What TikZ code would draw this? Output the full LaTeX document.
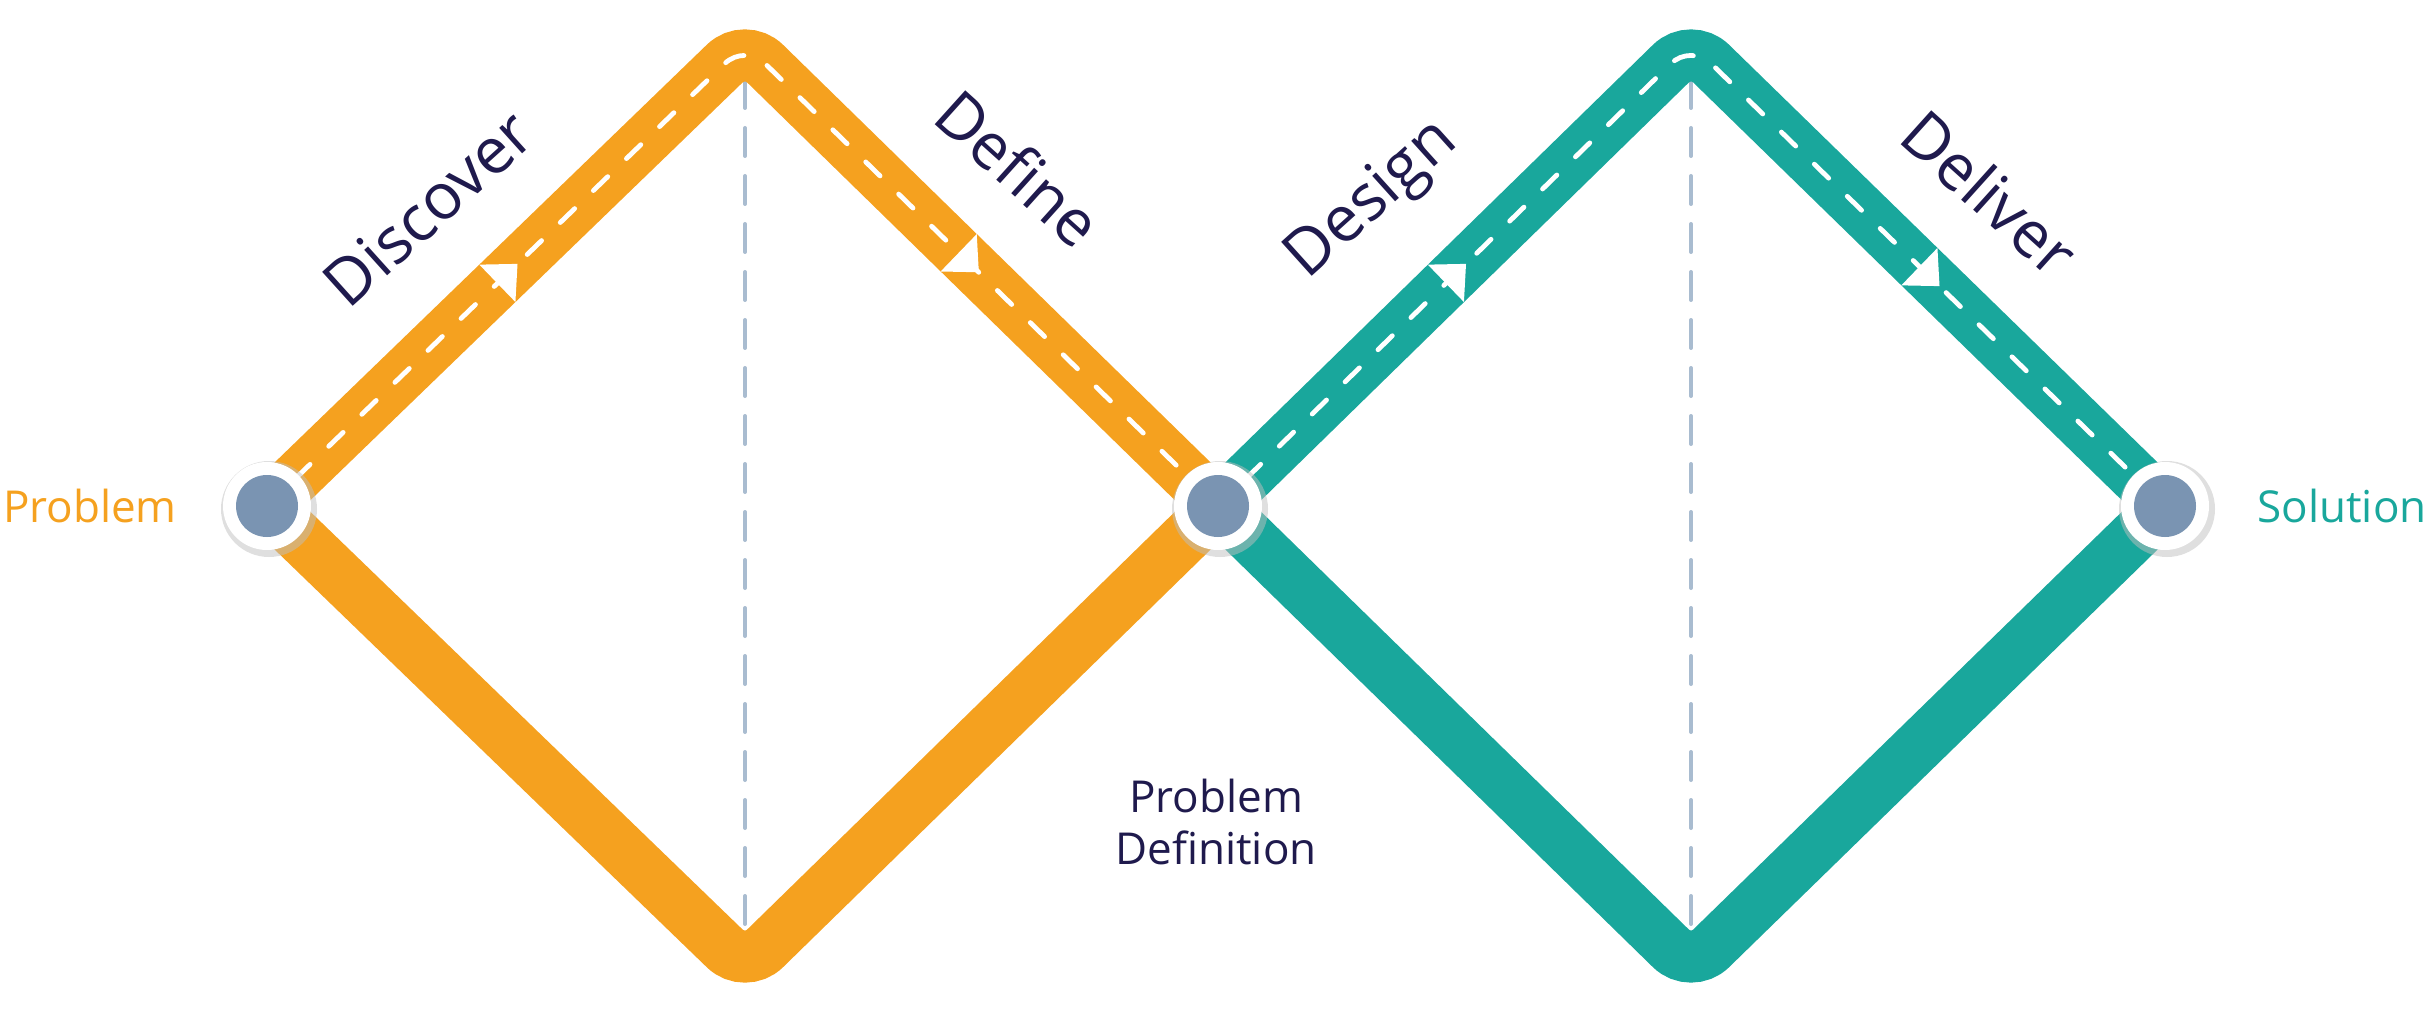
\documentclass[tikz,border=0pt]{standalone}
\usepackage{fontspec}
\setmainfont{Open Sans}
\usetikzlibrary{positioning,calc}
\definecolor{dorange}{HTML}{F5A11F}
\definecolor{dteal}{HTML}{19A79C}
\definecolor{dnavy}{HTML}{1F1A4D}
\definecolor{dpoint}{HTML}{7A94B2}
\definecolor{dguide}{HTML}{A9BCD0}
\tikzset{
  band/.style={line width=26pt, rounded corners=14pt},
  lane/.style={white, line width=2.4pt, line cap=round, dash pattern=on 10pt off 13pt, rounded corners=14pt},
  guide/.style={dguide, line width=2pt, line cap=round, dash pattern=on 14pt off 10pt},
  phase/.style={dnavy, font=\fontsize{32}{36}\selectfont},
  ends/.style={font=\fontsize{22}{26}\selectfont},
}
\newcommand{\flagtip}[2]{%
  \fill[white, shift={(#1)}, rotate=#2] (-6pt,13pt) -- (-6pt,-13pt) -- (8pt,0pt) -- cycle;}
\begin{document}
\begin{tikzpicture}[x=0.5pt,y=-0.5pt]
    \useasboundingbox (0,0) rectangle (2432,1016);

    % corners of the two diamonds
    \coordinate (start) at (267,506);
    \coordinate (mid) at (1218,506);
    \coordinate (finish) at (2165,506);
    \coordinate (topa) at (745,44);
    \coordinate (bota) at (745,968);
    \coordinate (topb) at (1691,44);
    \coordinate (botb) at (1691,968);

    % guides
    \draw[guide] (745,80) -- (745,935);
    \draw[guide] (1691,80) -- (1691,935);

    % bands
    \draw[band, dorange] (start) -- (topa) -- (mid);
    \draw[band, dorange] (start) -- (bota) -- (mid);
    \draw[band, dteal] (mid) -- (topb) -- (finish);
    \draw[band, dteal] (mid) -- (botb) -- (finish);

    % lanes
    \draw[lane] ($(start)!0.06!(topa)$) -- (topa) -- ($(topa)!0.94!(mid)$);
    \draw[lane] ($(mid)!0.06!(topb)$) -- (topb) -- ($(topb)!0.94!(finish)$);

    % direction marks
    \path (start) -- (topa) coordinate[pos=0.5] (fa);
    \path (topa) -- (mid) coordinate[pos=0.47] (fb);
    \path (mid) -- (topb) coordinate[pos=0.5] (fc);
    \path (topb) -- (finish) coordinate[pos=0.5] (fd);
    \flagtip{fa}{44}
    \flagtip{fb}{-44}
    \flagtip{fc}{44}
    \flagtip{fd}{-44}

    % points
    \foreach \p in {start,mid,finish}{
      \fill[black!25, opacity=0.5] ([xshift=1pt,yshift=-1.5pt]\p) circle (24pt);
      \fill[white] (\p) circle (22pt);
      \fill[dpoint] (\p) circle (15.5pt);
    }

    % labels
    \node[phase, rotate=42] (discover) at (428,208) {Discover};
    \node[phase, rotate=-42] (define) at (1019,168) {Define};
    \node[phase, rotate=42] (design) at (1373,201) {Design};
    \node[phase, rotate=-42] (deliver) at (1990,193) {Deliver};
    \node[ends, dorange] (problem) at (90,506) {Problem};
    \node[ends, dteal] (solution) at (2342,506) {Solution};
    \node[ends, dnavy, align=center] (pdef) at (1216,822) {Problem\\Definition};
\end{tikzpicture}
\end{document}
